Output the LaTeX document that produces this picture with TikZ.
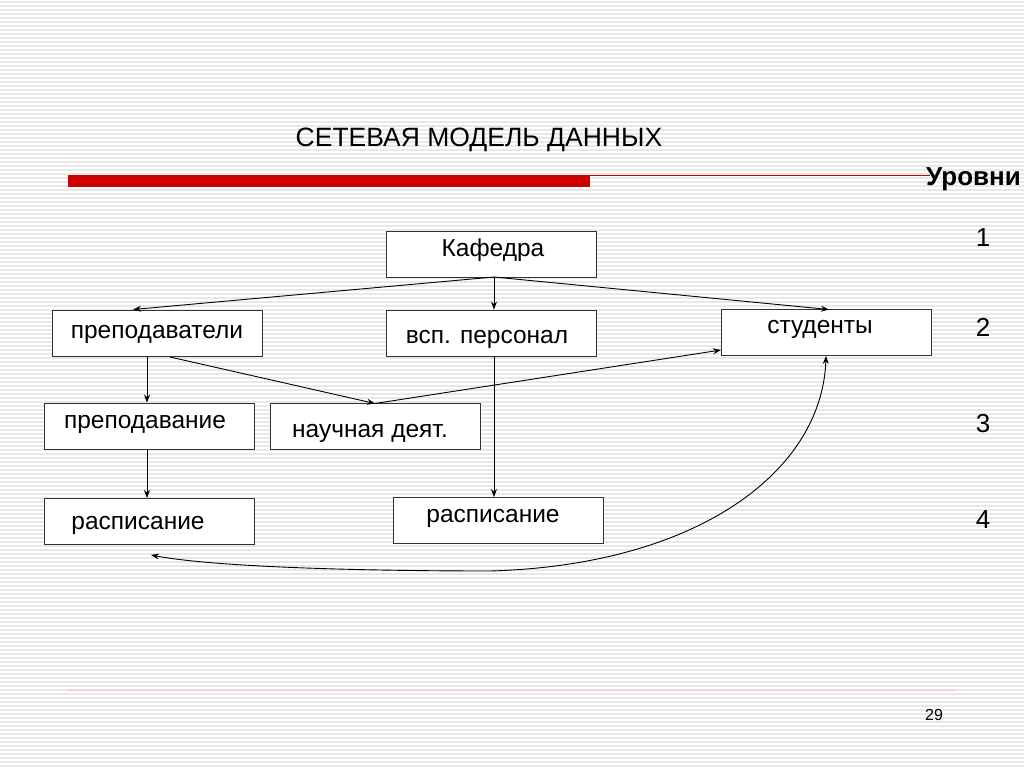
\documentclass[tikz,border=0pt]{standalone}
\usepackage{fontspec}
\setmainfont{Liberation Sans}
\usetikzlibrary{arrows.meta}
\begin{document}
\begin{tikzpicture}[x=1pt,y=-1pt,
  box/.style={draw=black!80,line width=0.9pt,fill=white,minimum width=210pt,minimum height=46pt,inner sep=0pt},
  txt/.style={font=\fontsize{24.5}{28}\selectfont,inner sep=0pt},
  arr/.style={-{Stealth[length=8pt,width=6pt]},line width=0.9pt}]
\useasboundingbox (0,0) rectangle (1024,768);
\fill[white] (0,0) rectangle (1024,768);
\foreach \i in {0,...,191} {\draw[black!9,line width=1.3pt] (0,\i*4+2) -- (1024,\i*4+2);}
\node[txt,font=\fontsize{26.5}{30}\selectfont] (title) at (479,140) {СЕТЕВАЯ МОДЕЛЬ ДАННЫХ};
\fill[red!80!black] (68,175) rectangle (590,187);
\draw[red!80!black,line width=0.8pt] (590,175.5) -- (930,175.5);
\node[txt,font=\fontsize{26}{28}\bfseries\selectfont,anchor=east] (lev) at (1021,179) {Уровни};
\node[txt,font=\fontsize{26}{30}\selectfont] (n1) at (983,238) {1};
\node[txt,font=\fontsize{26}{30}\selectfont] (n2) at (983,327) {2};
\node[txt,font=\fontsize{26}{30}\selectfont] (n3) at (983,424) {3};
\node[txt,font=\fontsize{26}{30}\selectfont] (n4) at (983,520) {4};
\draw[red!25,line width=0.8pt] (68,690) -- (955,690);
\node[txt,font=\fontsize{16}{18}\selectfont] (pg) at (934,715) {29};

\node[box] (kaf) at (491,254) {};
\node[box] (prep) at (157,333) {};
\node[box] (vsp) at (491,333) {};
\node[box] (stud) at (826,332) {};
\node[box] (prd) at (149,426) {};
\node[box] (nauch) at (375,426.5) {};
\node[box] (rasL) at (149,521.5) {};
\node[box] (rasR) at (498,520.5) {};
\node[txt] at (493,250) {Кафедра};
\node[txt] at (157,334) {преподаватели};
\node[txt] at (487,339) {всп. персонал};
\node[txt] at (820,329) {студенты};
\node[txt] at (145,424) {преподавание};
\node[txt] at (370,433) {научная деят.};
\node[txt] at (138,525) {расписание};
\node[txt] at (493,518) {расписание};

\coordinate (k0) at (494,277);
\draw[arr] (k0) -- (133,309.5);
\draw[arr] (k0) -- (vsp.north -| k0);
\draw[arr] (k0) -- (829,309.5);
\draw[arr] (147,356) -- (prd.north -| 147,0);
\draw[arr] (170,357) -- (375,403.5);
\draw[arr] (375,403.5) -- (721,350);
\draw[arr] (494,356) -- (rasR.north -| 494,0);
\draw[arr] (147,449) -- (rasL.north -| 147,0);
\draw[{Stealth[length=8pt,width=6pt]}-{Stealth[length=8pt,width=6pt]},line width=0.9pt]
  (151,555) .. controls (220,568) and (380,571) .. (490,571)
  .. controls (700,565) and (822,470) .. (826,356);
\end{tikzpicture}
\end{document}
